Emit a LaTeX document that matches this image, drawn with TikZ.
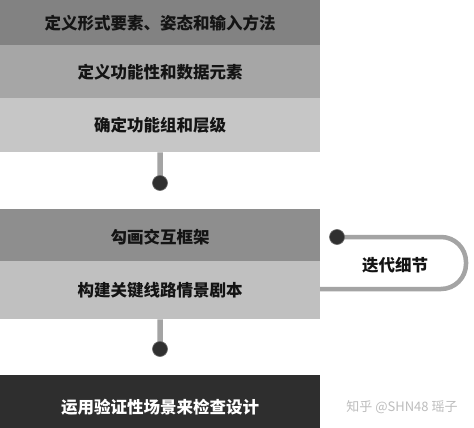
\documentclass[tikz,border=0pt]{standalone}
\usepackage{fontspec}
\usetikzlibrary{backgrounds}
\newfontfamily\cjk{Noto Sans CJK SC}
\definecolor{gA}{HTML}{828282}
\definecolor{gB}{HTML}{A6A6A6}
\definecolor{gC}{HTML}{C6C6C6}
\definecolor{gD}{HTML}{8E8E8E}
\definecolor{gE}{HTML}{C0C0C0}
\definecolor{gF}{HTML}{2E2E2E}
\definecolor{linegray}{HTML}{A4A4A4}
\definecolor{dotgray}{HTML}{303030}
\definecolor{wmgray}{HTML}{BDBDBD}
\begin{document}
\begin{tikzpicture}[x=1pt,y=-1pt,
  stagebox/.style={draw=none, minimum width=320pt, anchor=north west, inner sep=0pt,
    font=\cjk\bfseries\fontsize{16.5}{16.5}\selectfont, text=black!92},
  conn/.style={line width=5.5pt, draw=linegray},
  dotnode/.style={circle, fill=dotgray, draw=black!60, line width=0.6pt, minimum size=15pt, inner sep=0pt},
  looptext/.style={font=\cjk\bfseries\fontsize{16.5}{16.5}\selectfont, text=black!92, inner sep=2pt},
  wmtext/.style={font=\cjk\fontsize{13}{13}\selectfont, text=wmgray, inner sep=0pt}]
\useasboundingbox (0,0) rectangle (474,428);
% upper stack
\node[stagebox, fill=gA, minimum height=45pt] (b1) at (0,0) {定义形式要素、姿态和输入方法};
\node[stagebox, fill=gB, minimum height=53pt] (b2) at (0,45) {定义功能性和数据元素};
\node[stagebox, fill=gC, minimum height=54pt] (b3) at (0,98) {确定功能组和层级};
% middle stack
\node[stagebox, fill=gD, minimum height=56pt] (b4) at (0,209) {勾画交互框架};
\node[stagebox, fill=gE, minimum height=58pt] (b5) at (0,261) {构建关键线路情景剧本};
% bottom
\node[stagebox, fill=gF, minimum height=64pt, text=white] (b6) at (0,375) {运用验证性场景来检查设计};
% dots
\node[dotnode] (d1) at (160,183) {};
\node[dotnode] (d2) at (160,349) {};
\node[dotnode] (d3) at (337,237) {};
\coordinate (lend) at (320,289);
% connectors behind
\begin{pgfonlayer}{background}
\fill[white] (0,0) rectangle (474,428);
\draw[conn] (b3.south) -- (d1.center);
\draw[conn] (b5.south) -- (d2.center);
\draw[conn, line width=4.5pt, rounded corners=25pt] (d3.center) -- (466,237) -- (466,289) -- (lend);
\end{pgfonlayer}
\node[looptext] (loop) at (395,265) {迭代细节};
\node[wmtext] (wm) at (402,407) {知乎 @SHN48 瑶子};
\end{tikzpicture}
\end{document}
